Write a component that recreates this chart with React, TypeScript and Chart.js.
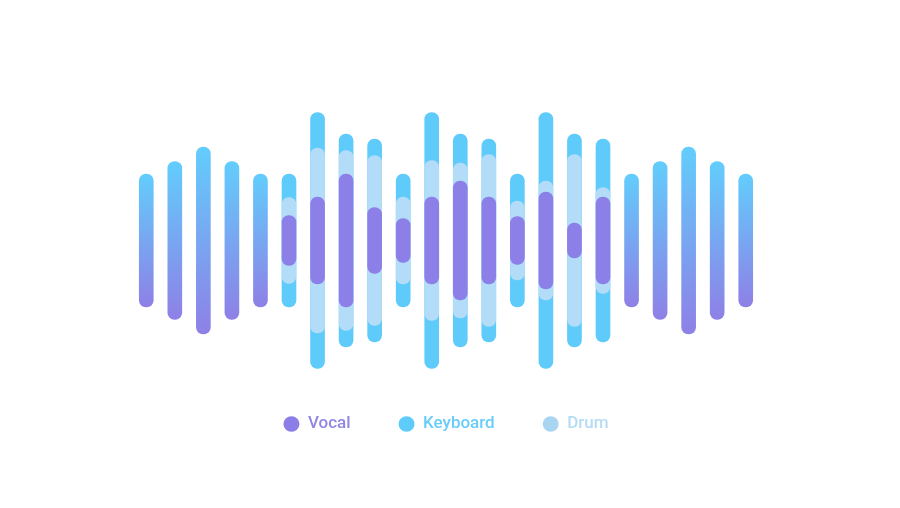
import { useEffect, useRef } from 'react'
import { Chart, registerables, ChartConfiguration } from 'chart.js'

Chart.register(...registerables)

// 22 columns of the waveform
const columns = Array.from({ length: 22 }, (_, i) => `C${i + 1}`)

// half heights of each bar around the centre line
const keyboardValues = [66.5, 79, 93.5, 79, 66.5, 66.5, 128, 106.5, 101.5, 66.5, 128, 106.5, 101.5, 66.5, 128, 106.5, 101.5, 66.5, 79, 93.5, 79, 66.5]
const drumValues = [null, null, null, null, null, 43, 92.5, 90, 85, 43.5, 80, 77.5, 86, 39.5, 59.5, 86, 53, null, null, null, null, null]
const vocalValues = [null, null, null, null, null, 25, 43.5, 66.5, 33, 22, 43.5, 59.5, 43.5, 24, 48.5, 17.5, 43.5, null, null, null, null, null]

const seriesLabels = ['Vocal', 'Keyboard', 'Drum']

const VOCAL = '#8c7fe7'
const KEYBOARD = '#5fcbfb'
const DRUM = '#b3dcf8'
const legendDots = ['#8a7de6', '#5fcbfb', '#a9d5f3']
const legendText = ['#9186e4', '#69cdf9', '#b5dbf5']

const toRange = (v: number | null) => (v == null ? null : [-v, v])

export default function App() {
  const canvasRef = useRef<HTMLCanvasElement>(null)
  const chartRef = useRef<Chart | null>(null)

  useEffect(() => {
    if (!canvasRef.current) return
    if (chartRef.current) chartRef.current.destroy()

    const barStyle = {
      barThickness: 14,
      borderRadius: 7,
      borderSkipped: false,
      borderWidth: 0,
      clip: false as const,
      grouped: false,
    }

    // edge columns (no drum / vocal) get a cyan -> purple gradient
    const keyboardColor = (ctx: any) => {
      const i = ctx.dataIndex
      if (i == null || drumValues[i] != null) return KEYBOARD
      const chart = ctx.chart
      const yScale = chart.scales && chart.scales.y
      if (!yScale || !chart.chartArea) return KEYBOARD
      const top = yScale.getPixelForValue(keyboardValues[i])
      const bottom = yScale.getPixelForValue(-keyboardValues[i])
      if (!isFinite(top) || !isFinite(bottom)) return KEYBOARD
      const g = chart.ctx.createLinearGradient(0, top, 0, bottom)
      g.addColorStop(0, '#62cdfc')
      g.addColorStop(1, '#8e80e6')
      return g
    }

    const config: ChartConfiguration<'bar'> = {
      type: 'bar',
      data: {
        labels: columns,
        datasets: [
          { label: seriesLabels[0], data: vocalValues.map(toRange) as any, backgroundColor: VOCAL, order: 0, ...barStyle },
          { label: seriesLabels[1], data: keyboardValues.map(toRange) as any, backgroundColor: keyboardColor, order: 2, ...barStyle },
          { label: seriesLabels[2], data: drumValues.map(toRange) as any, backgroundColor: DRUM, order: 1, ...barStyle },
        ],
      },
      options: {
        responsive: true,
        maintainAspectRatio: false,
        animation: false,
        events: [],
        layout: { padding: { left: 132, right: 140, top: 100, bottom: 65.5 } },
        scales: {
          x: { display: false, offset: true },
          y: { display: false, min: -127, max: 140.5 },
        },
        plugins: {
          tooltip: { enabled: false },
          legend: {
            display: true,
            position: 'bottom',
            labels: {
              usePointStyle: true,
              pointStyle: 'circle',
              boxHeight: 11,
              pointStyleWidth: 16,
              padding: 48,
              font: { family: 'Roboto', size: 17, weight: 500 as any },
              sort: (a: any, b: any) => a.datasetIndex - b.datasetIndex,
              generateLabels: (chart: any) => {
                const items = Chart.defaults.plugins.legend.labels.generateLabels(chart)
                items.forEach((item: any) => {
                  const i = item.datasetIndex
                  item.fillStyle = legendDots[i]
                  item.strokeStyle = legendDots[i]
                  item.lineWidth = 0
                  item.fontColor = legendText[i]
                })
                return items
              },
            },
          },
        },
      },
    }

    chartRef.current = new Chart(canvasRef.current, config)

    return () => {
      if (chartRef.current) {
        chartRef.current.destroy()
        chartRef.current = null
      }
    }
  }, [])

  return (
    <div style={{ position: 'absolute', left: 0, top: 0, width: 900, height: 508, background: '#fff' }}>
      <canvas ref={canvasRef} />
    </div>
  )
}
